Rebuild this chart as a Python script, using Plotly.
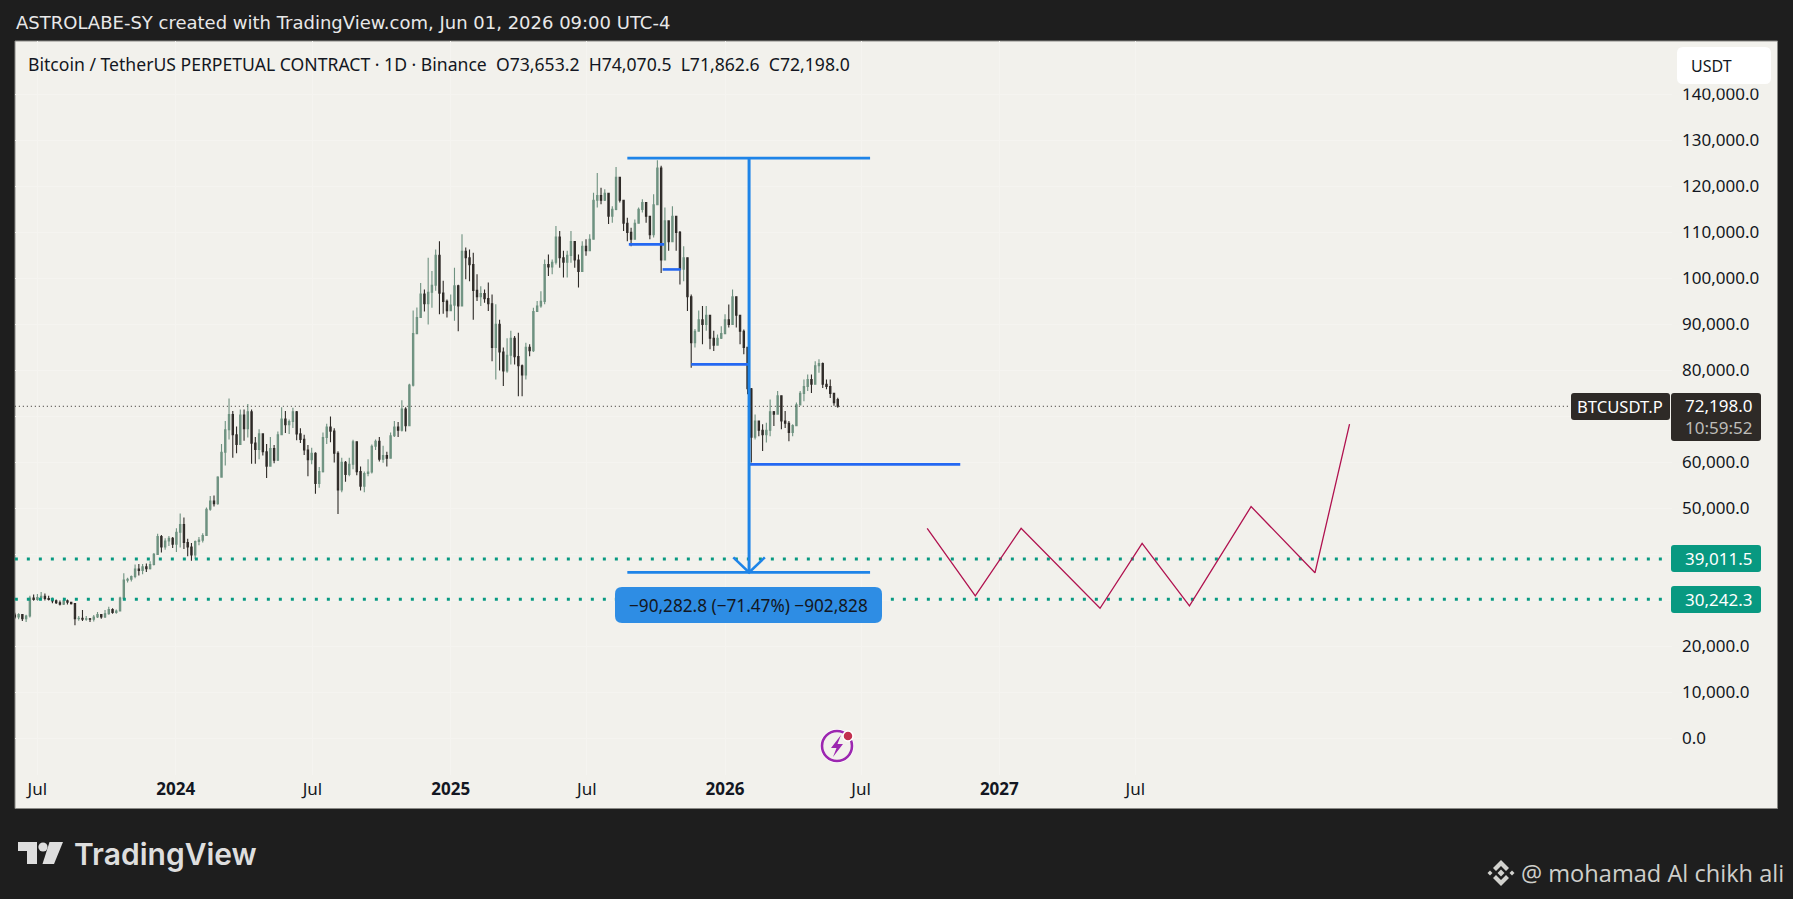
import pandas as pd
import plotly.graph_objects as go

# ---------- data (thousand USDT unless noted) ----------
closes = [
26.4,26.9,26.0,26.6,30.5,30.2,30.6,30.9,30.4,30.2,
29.9,29.5,29.2,29.9,29.6,29.3,26.0,26.1,25.9,26.0,
25.9,26.4,26.9,26.4,27.1,28.0,27.4,27.7,30.5,34.4,
34.6,35.2,36.8,36.5,37.3,36.9,37.8,40.0,43.9,41.6,
42.9,43.5,42.2,44.8,46.5,42.6,41.6,39.9,42.8,43.1,
44.1,49.8,51.6,51.0,56.8,62.2,67.1,70.4,66.0,63.9,
70.3,67.3,71.0,64.2,62.8,66.2,62.3,59.2,63.0,60.5,
66.0,69.4,68.2,68.9,71.0,66.2,65.0,62.7,60.6,62.0,
55.4,58.0,65.4,67.7,66.8,62.0,54.0,60.0,57.4,59.6,
64.5,58.0,54.8,57.6,57.9,63.5,64.6,60.7,61.5,60.9,
65.8,67.7,67.0,71.6,68.0,76.8,88.0,91.5,96.6,94.5,
97.0,98.5,105.0,96.8,95.0,93.0,94.2,98.4,94.0,105.9,
104.5,103.0,97.4,96.0,96.7,95.6,94.5,85.0,90.0,84.0,
79.9,83.3,87.0,83.0,81.0,79.0,85.0,84.3,92.8,94.0,
95.0,103.0,102.5,103.5,109.0,104.5,103.5,105.0,108.0,104.0,
101.5,107.0,106.0,108.5,117.0,118.0,117.0,118.5,113.5,115.0,
122.0,117.0,112.0,110.0,108.5,112.0,115.0,116.5,113.5,109.5,
116.0,124.0,104.0,112.5,108.0,113.5,110.0,102.0,104.5,96.0,
86.0,88.5,91.0,90.0,92.0,87.0,85.5,87.0,88.0,91.0,
90.0,96.0,92.0,88.5,85.0,76.0,65.5,69.0,67.0,66.0,
67.0,71.0,70.5,74.5,69.0,68.5,66.5,68.0,72.5,75.0,
76.5,78.0,77.0,81.0,81.5,77.0,76.5,75.0,73.0,72.198]
opens = [
26.8,26.4,26.9,26.0,26.6,30.5,30.2,30.6,30.9,30.4,
30.2,29.9,29.5,29.2,29.9,29.6,29.3,26.0,26.1,25.9,
26.0,25.9,26.4,26.9,26.4,27.1,28.0,27.4,27.7,30.5,
34.4,34.6,35.2,36.8,36.5,37.3,36.9,37.8,40.0,43.9,
41.6,42.9,43.5,42.2,44.8,46.5,42.6,41.6,39.9,42.8,
43.1,44.1,49.8,51.6,51.0,56.8,62.2,67.1,70.4,66.0,
63.9,70.3,67.3,71.0,64.2,62.8,66.2,62.3,59.2,63.0,
60.5,66.0,69.4,68.2,68.9,71.0,66.2,65.0,62.7,60.6,
62.0,55.4,58.0,65.4,67.7,66.8,62.0,54.0,60.0,57.4,
59.6,64.5,58.0,54.8,57.6,57.9,63.5,64.6,60.7,61.5,
60.9,65.8,67.7,67.0,71.6,68.0,76.8,88.0,91.5,96.6,
94.5,97.0,98.5,105.0,96.8,95.0,93.0,94.2,98.4,94.0,
105.9,104.5,103.0,97.4,96.0,96.7,95.6,94.5,85.0,90.0,
84.0,79.9,83.3,87.0,83.0,81.0,79.0,85.0,84.3,92.8,
94.0,95.0,103.0,102.5,103.5,109.0,104.5,103.5,105.0,108.0,
104.0,101.5,107.0,106.0,108.5,117.0,118.0,117.0,118.5,113.5,
115.0,122.0,117.0,112.0,110.0,108.5,112.0,115.0,116.5,113.5,
109.5,116.0,124.0,104.0,112.5,108.0,113.5,110.0,102.0,104.5,
96.0,86.0,88.5,91.0,90.0,92.0,87.0,85.5,87.0,88.0,
91.0,90.0,96.0,92.0,88.5,85.0,76.0,65.5,69.0,67.0,
66.0,67.0,71.0,70.5,74.5,69.0,68.5,66.5,68.0,72.5,
75.0,76.5,78.0,77.0,81.0,81.5,77.0,76.5,75.0,73.6532]
highs = [
27.3,27.2,27.0,26.9,31.0,31.3,31.4,31.8,31.5,31.0,
30.6,30.2,30.0,30.6,30.2,29.7,29.4,26.6,27.9,26.6,
26.2,26.8,27.5,27.0,27.9,28.6,28.3,28.0,30.8,35.9,
34.9,35.4,37.8,37.9,37.9,38.0,38.5,40.3,44.5,44.2,
43.5,44.0,43.8,45.7,48.9,48.0,43.4,42.5,43.0,43.8,
44.6,50.2,52.7,52.8,57.0,64.0,69.0,73.9,71.2,67.8,
71.5,71.5,72.7,71.5,65.5,67.2,66.2,64.0,65.5,63.8,
66.7,72.0,71.2,69.3,71.9,71.2,67.4,66.0,63.8,63.2,
62.2,59.0,66.5,68.4,70.0,67.4,62.4,61.0,60.3,61.0,
64.9,64.5,59.1,58.0,60.7,63.9,65.0,65.5,63.6,62.3,
66.5,69.0,68.8,73.5,72.0,77.1,93.0,93.7,99.0,97.6,
104.5,101.6,106.3,108.1,99.5,95.4,96.5,102.3,98.6,109.6,
106.7,106.3,105.6,100.9,98.3,97.6,99.1,96.5,94.4,91.0,
85.0,87.0,88.6,87.5,88.2,81.3,86.0,85.7,93.6,95.1,
97.2,104.1,105.2,104.1,111.4,110.3,106.0,106.0,110.3,108.1,
105.2,108.1,108.5,109.6,118.6,122.9,119.7,119.4,118.6,115.7,
124.2,122.1,117.0,113.2,111.0,112.8,115.4,117.2,116.5,113.6,
118.3,125.7,124.5,115.4,112.6,115.7,113.6,110.3,107.0,104.6,
96.5,89.0,93.0,94.0,94.0,92.1,88.6,87.8,89.6,92.2,
94.3,97.6,96.1,92.1,88.9,85.1,76.2,70.4,69.0,68.3,
68.6,73.7,71.2,75.5,74.6,71.2,69.0,68.3,73.0,75.5,
78.0,79.1,79.1,82.0,82.4,81.7,78.0,78.0,75.1,74.0705]
lows = [
26.0,25.9,25.5,25.3,26.3,29.9,29.9,30.0,30.0,30.0,
29.4,29.2,28.9,29.0,29.1,29.1,24.6,25.6,25.5,25.6,
25.3,25.4,26.2,26.0,26.2,26.9,27.1,27.1,27.7,30.2,
33.9,34.1,34.8,35.4,35.7,36.2,36.7,37.6,40.0,40.4,
41.0,41.8,41.4,40.5,41.5,41.2,39.6,38.6,39.0,42.0,
42.6,44.0,49.5,50.4,50.8,56.8,59.3,65.0,61.0,62.0,
63.9,64.7,65.4,59.7,59.7,60.7,61.5,56.6,59.2,59.8,
60.3,66.0,66.4,66.2,67.5,64.8,64.2,61.6,57.0,59.6,
53.2,54.5,57.8,64.0,64.4,60.0,48.8,53.5,55.8,57.0,
58.5,57.2,53.9,53.5,57.0,57.6,62.7,60.2,59.9,59.1,
60.9,65.5,65.5,66.7,66.7,67.9,76.5,88.0,91.5,92.8,
90.0,93.6,97.3,92.2,92.3,91.5,93.0,90.8,88.5,94.0,
99.8,99.4,91.0,95.1,94.0,94.7,92.9,82.0,78.0,80.0,
76.6,79.5,81.3,81.3,74.4,74.4,78.0,83.1,84.0,92.8,
93.6,94.4,100.5,100.9,103.0,102.3,100.2,100.2,103.4,102.3,
98.0,101.8,104.9,105.9,108.5,115.4,116.1,116.8,111.8,112.1,
114.8,116.5,110.3,108.1,107.0,108.4,111.9,114.3,112.1,108.5,
108.9,115.9,101.2,103.9,106.0,107.9,106.0,98.7,99.4,92.9,
80.6,85.0,88.5,85.7,88.6,84.6,84.2,85.4,86.8,87.9,
89.3,89.9,89.3,85.7,83.5,74.8,60.0,65.0,65.7,62.5,
64.3,65.7,67.9,70.4,67.2,67.5,64.6,65.7,67.9,72.5,
73.3,75.5,75.1,76.9,79.5,76.2,75.9,74.0,72.3,71.8626]
bar_dates = pd.date_range("2023-06-01", periods=len(closes), freq="5D")

forecast_dates = ["2026-09-27","2026-11-30","2027-01-30","2027-05-15","2027-07-10",
                  "2027-09-11","2027-12-02","2028-02-25","2028-04-11"]
forecast_vals = [45.68,31.0,45.68,28.28,42.4,28.8,50.4,36.0,68.3]

measure_top = 126.15
measure_bottom = 36.1
measure_date = "2026-02-02"
measure_span = ["2025-08-24","2026-07-13"]
arrow_dates = ["2026-01-12","2026-02-02","2026-02-23"]
arrow_vals = [39.36,36.1,39.36]
support_segments = [
    (["2025-08-26","2025-10-12"],107.4),
    (["2025-10-10","2025-11-03"],101.95),
    (["2025-11-17","2026-02-01"],81.3),
    (["2026-02-02","2026-11-10"],59.56),
]
level_vals = [39.0115,30.2423]
level_span = ["2023-06-01","2029-06-03"]
last_close_span = ["2023-06-01","2029-01-29"]
last_close = 72.198

price_ticks = [0,10000,20000,30000,40000,50000,60000,70000,80000,90000,100000,110000,120000,130000,140000]
hidden_ticks = [30000,40000,70000]
time_ticks = ["2023-07-01","2024-01-01","2024-07-01","2025-01-01","2025-07-01","2026-01-01",
              "2026-07-01","2027-01-01","2027-07-01"]
time_labels = ["Jul","<b>2024</b>","Jul","<b>2025</b>","Jul","<b>2026</b>","Jul","<b>2027</b>","Jul"]

# ---------- style ----------
FONT = "Noto Sans"
BG = "#1e1e1e"
PANEL = "#f2f1ec"
GRID = "#f5f4f0"
UP = "#6e9280"
DOWN = "#2e2a27"
MEASURE = "#1e84e8"
SUPPORT = "#2468f2"
GREEN = "#089981"
L, R, T, B = 15, 1672, 41, 775

def px(x): return (x - L) / (R - L)
def py(y): return (B - y) / (B - T)

def rrect(x0, y0, x1, y1, r, fill, line=None, layer="above"):
    X0, X1, Y0, Y1 = px(x0), px(x1), py(y0), py(y1)
    rx, ry = r / (R - L), r / (B - T)
    path = (f"M{X0+rx},{Y0} L{X1-rx},{Y0} Q{X1},{Y0} {X1},{Y0-ry} L{X1},{Y1+ry} Q{X1},{Y1} {X1-rx},{Y1} "
            f"L{X0+rx},{Y1} Q{X0},{Y1} {X0},{Y1+ry} L{X0},{Y0-ry} Q{X0},{Y0} {X0+rx},{Y0} Z")
    return dict(type="path", xref="paper", yref="paper", path=path, fillcolor=fill,
                line=dict(width=0) if line is None else dict(width=1, color=line), layer=layer)

def poly(points, fill, layer="above"):
    path = "M" + " L".join(f"{px(a)},{py(b)}" for a, b in points) + " Z"
    return dict(type="path", xref="paper", yref="paper", path=path, fillcolor=fill,
                line=dict(width=0), layer=layer)

def circle(cx, cy, r, fill="rgba(0,0,0,0)", line=None, lw=0):
    return dict(type="circle", xref="paper", yref="paper", x0=px(cx-r), x1=px(cx+r), y0=py(cy+r), y1=py(cy-r),
                fillcolor=fill, line=dict(width=lw, color=line or fill), layer="above")

def text(x, y, s, size=17, color="#131722", anchor="left", family=FONT, weight=None):
    f = dict(family=family, size=size, color=color)
    if weight: f["weight"] = weight
    return dict(xref="paper", yref="paper", x=px(x), y=py(y), text=s, showarrow=False,
                xanchor=anchor, yanchor="middle", font=f, borderpad=0)

K = lambda seq: [v * 1000 for v in seq]
fig = go.Figure()

fig.add_trace(go.Candlestick(
    x=bar_dates, open=K(opens), high=K(highs), low=K(lows), close=K(closes),
    increasing=dict(line=dict(color=UP, width=1.1), fillcolor=UP),
    decreasing=dict(line=dict(color=DOWN, width=1.1), fillcolor=DOWN),
    whiskerwidth=0, showlegend=False))

def line(x, y, color, width, dash=None):
    fig.add_trace(go.Scatter(x=x, y=y, mode="lines", showlegend=False, hoverinfo="skip",
                             line=dict(color=color, width=width, dash=dash)))

line(last_close_span, K([last_close, last_close]), DOWN, 1, "1px,3px")
for v in level_vals:
    line(level_span, K([v, v]), GREEN, 3, "3px,9px")
for span, v in support_segments:
    line(span, K([v, v]), SUPPORT, 2.6)
line(measure_span, K([measure_top, measure_top]), MEASURE, 2.6)
line(measure_span, K([measure_bottom, measure_bottom]), MEASURE, 2.6)
line([measure_date, measure_date], K([measure_top, measure_bottom]), MEASURE, 3)
line(arrow_dates, K(arrow_vals), MEASURE, 2.6)
line(forecast_dates, K(forecast_vals), "#b0124f", 1.3)

shapes = [
    dict(type="rect", xref="paper", yref="paper", x0=px(15), x1=px(1777.5), y0=py(808.5), y1=py(41),
         fillcolor=PANEL, line=dict(color="#8a8a86", width=1), layer="below"),
    rrect(615, 587, 882, 623, 7, "#2e8de4"),
    rrect(1678, 84, 1771, 88.5, 0, PANEL),
    rrect(1677, 47, 1771, 84, 6, "#ffffff"),
    rrect(1571, 393, 1670, 420, 3, "#2e2a27"),
    rrect(1671, 393, 1761, 441, 3, "#2e2a27"),
    rrect(1671, 545, 1761, 572, 3, GREEN),
    rrect(1671, 586, 1761, 613, 3, GREEN),
    # fired-alert badge
    circle(837, 746, 17, "#ffffff"),
    circle(837, 746, 15, PANEL, "#9c27b0", 2.6),
    poly([(841, 735), (831, 748), (836.5, 748), (833, 757), (843, 744), (837.5, 744)], "#9c27b0"),
    circle(848, 736, 5, "#c2304f", "#ffffff", 1.5),
    # TradingView mark
    poly([(18, 842), (37, 842), (37, 864), (27, 864), (27, 851), (18, 851)], "#dedede"),
    circle(43, 847, 4.6, "#dedede"),
    poly([(49.5, 842), (63, 842), (54, 864), (42.5, 864)], "#dedede"),
    # Binance mark
    poly([(1501, 860), (1509, 868), (1506, 871), (1501, 866), (1496, 871), (1493, 868)], "#d2d2ce"),
    poly([(1501, 886), (1509, 878), (1506, 875), (1501, 880), (1496, 875), (1493, 878)], "#d2d2ce"),
    poly([(1501, 869.5), (1504.5, 873), (1501, 876.5), (1497.5, 873)], "#d2d2ce"),
    poly([(1490, 870.5), (1492.5, 873), (1490, 875.5), (1487.5, 873)], "#d2d2ce"),
    poly([(1512, 870.5), (1514.5, 873), (1512, 875.5), (1509.5, 873)], "#d2d2ce"),
]

annotations = [
    text(15, 23, "ASTROLABE-SY created with TradingView.com, Jun 01, 2026 09:00 UTC-4", 18, "#e8e8e8", family="DejaVu Sans"),
    text(27, 64, "Bitcoin / TetherUS PERPETUAL CONTRACT · 1D · Binance&nbsp;&nbsp;O73,653.2&nbsp;&nbsp;H74,070.5&nbsp;&nbsp;L71,862.6&nbsp;&nbsp;C72,198.0", 17.6),
    text(748.5, 605, "−90,282.8 (−71.47%) −902,828", 17.2, anchor="center"),
    text(1690, 66, "USDT", 16),
    text(1576, 406.5, "BTCUSDT.P", 16.6, "#ffffff"),
    text(1753, 406, "72,198.0", 17, "#ffffff", anchor="right"),
    text(1753, 427, "10:59:52", 17, "#bdbcb9", anchor="right"),
    text(1753, 558.5, "39,011.5", 17, "#ffffff", anchor="right"),
    text(1753, 599.5, "30,242.3", 17, "#ffffff", anchor="right"),
    text(73, 854, "TradingView", 30, "#dedede", family="Inter", weight=600),
    text(1520, 873, "@ mohamad Al chikh ali", 23.6, "#cfcfcb", family="Open Sans"),
]

fig.update_layout(
    width=1793, height=899, autosize=False,
    margin=dict(l=L, r=1793 - R, t=T, b=899 - B, pad=0),
    paper_bgcolor=BG, plot_bgcolor="rgba(0,0,0,0)",
    font=dict(family=FONT, size=17, color="#131722"),
    showlegend=False, boxgap=0.5, hovermode=False,
    shapes=shapes, annotations=annotations,
    xaxis=dict(type="date", range=["2023-06-01 05:00", "2029-06-14 02:00"],
               rangeslider=dict(visible=False), tickmode="array",
               tickvals=time_ticks, ticktext=time_labels, showgrid=True, gridcolor=GRID, gridwidth=1,
               zeroline=False, showline=False, ticks="", tickangle=0, ticklabelstandoff=2,
               tickfont=dict(family=FONT, size=17, color="#131722")),
    yaxis=dict(side="right", range=[-7957, 151608], tickmode="array",
               tickvals=price_ticks,
               ticktext=["" if v in hidden_ticks else f"{v:,.1f}" for v in price_ticks],
               showgrid=True, gridcolor=GRID, gridwidth=1, zeroline=False, showline=False, ticks="",
               ticklabelstandoff=9, tickfont=dict(family=FONT, size=17, color="#131722")),
)

fig.write_html("out.html", config=dict(displayModeBar=False),
               post_script="document.body.style.margin='0';document.body.style.overflow='hidden';")
